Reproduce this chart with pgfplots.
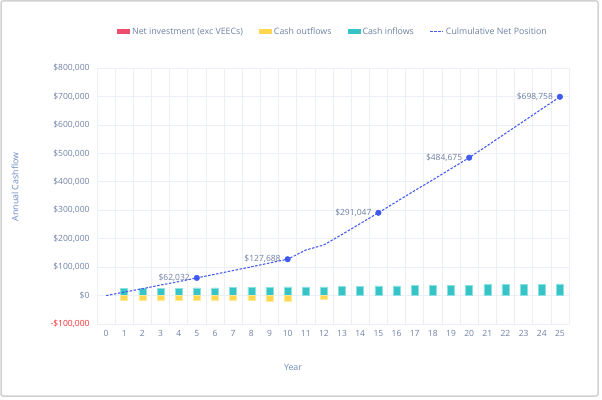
\documentclass[border=0pt]{standalone}
\usepackage{pgfplots}
\pgfplotsset{compat=1.18}
\usepackage{fontspec}
\setmainfont{Open Sans}
\definecolor{cteal}{RGB}{55,196,198}
\definecolor{ctealb}{RGB}{140,225,226}
\definecolor{cyel}{RGB}{255,214,80}
\definecolor{cyelb}{RGB}{255,232,150}
\definecolor{cpink}{RGB}{238,78,110}
\definecolor{cline}{RGB}{72,92,240}
\definecolor{cmark}{RGB}{64,90,240}
\definecolor{ctick}{RGB}{112,128,165}
\definecolor{clab}{RGB}{108,137,192}
\definecolor{cgrid}{RGB}{236,239,245}
\definecolor{cred}{RGB}{255,45,45}
\begin{document}
\begin{tikzpicture}[x=1pt,y=1pt]
\fill[white] (0,0) rectangle (602,399);
\draw[black!18, line width=1.5pt, rounded corners=2pt] (1,3) rectangle (598,398);
\begin{axis}[
  at={(97pt,75pt)}, anchor=south west,
  scale only axis, width=472pt, height=256pt,
  xmin=-0.5, xmax=25.5, ymin=-100000, ymax=800000,
  axis line style={draw=none},
  major tick length=0pt, minor tick length=0pt,
  xtick={0,...,25},
  minor xtick={-0.5,0.5,...,25.5},
  xmajorgrids=false, xminorgrids=true, ymajorgrids=true,
  grid style={cgrid, line width=0.6pt},
  minor grid style={cgrid, line width=0.6pt},
  ytick={-100000,0,100000,200000,300000,400000,500000,600000,700000,800000},
  yticklabels={{\color{cred}-\$100,000},{\$0},{\$100,000},{\$200,000},{\$300,000},{\$400,000},{\$500,000},{\$600,000},{\$700,000},{\$800,000}},
  /pgf/number format/assume math mode=true,
  tick label style={font=\fontsize{8.5}{10}\selectfont, text=ctick},
  yticklabel style={xshift=-4pt},
  xticklabel style={yshift=-3pt},
  scaled y ticks=false,
  clip=false,
  legend columns=4,
  legend style={at={(0.5,1)}, anchor=south, yshift=28pt, draw=none, fill=none,
    font=\fontsize{8.8}{10}\selectfont, text=ctick,
    /tikz/every even column/.append style={column sep=14pt}},
  legend image code/.code={\fill[#1, draw=none] (0pt,-2.3pt) rectangle (13pt,2.3pt);},
]
\addlegendimage{fill=cpink}
\addlegendentry{Net investment (exc VEECs)}
\addlegendimage{fill=cyel}
\addlegendentry{Cash outflows}
\addlegendimage{fill=cteal}
\addlegendentry{Cash inflows}
\addlegendimage{legend image code/.code={\draw[cline, line width=1.1pt, dash pattern=on 2.5pt off 1.5pt] (0pt,0pt) -- (13pt,0pt);}}
\addlegendentry{Culmulative Net Position}

\addplot[ybar, bar width=7pt, bar shift=0pt, fill=cteal, draw=ctealb, line width=0.6pt, forget plot]
coordinates {(1,24600) (2,24600) (3,25800) (4,25800) (5,27000) (6,27000) (7,28000) (8,28000) (9,29000) (10,30500) (11,30500) (12,30500) (13,33000) (14,33000) (15,34000) (16,34000) (17,35000) (18,36000) (19,36000) (20,37000) (21,38000) (22,39000) (23,39000) (24,40000) (25,41000)};
\addplot[ybar, bar width=7pt, bar shift=0pt, fill=cyel, draw=cyelb, line width=0.6pt, forget plot]
coordinates {(1,-16000) (2,-16000) (3,-16000) (4,-18000) (5,-18000) (6,-18000) (7,-18000) (8,-18000) (9,-21000) (10,-21000) (12,-12000)};

\addplot[cline, line width=1.1pt, dash pattern=on 2.5pt off 1.5pt, mark=none, forget plot]
coordinates {(0,0) (1,12000) (2,24000) (3,37000) (4,49000) (5,62032) (6,75000) (7,88000) (8,101000) (9,114500) (10,127688) (11,160000) (12,178000) (13,215000) (14,253000) (15,291047) (16,330000) (17,369000) (18,407000) (19,446000) (20,484675) (21,527000) (22,570000) (23,613000) (24,656000) (25,698758)};

\addplot[only marks, mark=*, mark size=2.8pt, color=cmark, forget plot,
  point meta=explicit symbolic,
  nodes near coords,
  nodes near coords style={anchor=east, xshift=-3.5pt, font=\fontsize{8.5}{10}\selectfont, text=ctick}]
coordinates {(5,62032) [\$62,032] (10,127688) [\$127,688] (15,291047) [\$291,047] (20,484675) [\$484,675] (25,698758) [\$698,758]};
\end{axis}
\node[rotate=90, font=\fontsize{8.8}{10}\selectfont, text=clab] at (15,212) {Annual Cashflow};
\node[font=\fontsize{8.8}{10}\selectfont, text=clab] at (293,32) {Year};
\end{tikzpicture}
\end{document}
